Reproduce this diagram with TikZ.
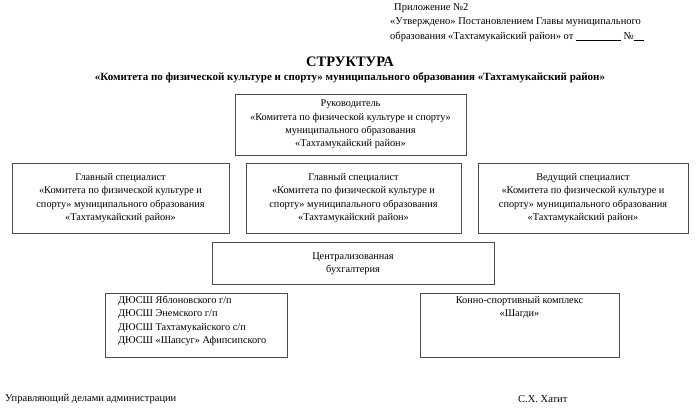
\documentclass[tikz,border=0pt]{standalone}
\usepackage{fontspec}
\setmainfont{Liberation Serif}
\begin{document}
\begin{tikzpicture}[x=1pt,y=-1pt,
  bx/.style={draw=black!70,line width=0.6pt,align=center,font=\fontsize{10.3}{13.3}\selectfont,inner sep=0pt},
  tx/.style={inner sep=0pt,font=\fontsize{10.5}{14.5}\selectfont}]
\useasboundingbox[fill=white] (0,0) rectangle (700,408);
\node[tx,anchor=north west,align=left] (hdr) at (390,3) {\hspace*{4pt}Приложение №2\\«Утверждено» Постановлением Главы муниципального\\образования «Тахтамукайский район» от \underline{\hspace{45pt}} №\underline{\hspace{10pt}}};
\node[inner sep=0pt,font=\fontsize{14.5}{16}\selectfont\bfseries] (title) at (350,62) {СТРУКТУРА};
\node[inner sep=0pt,font=\fontsize{11}{12}\selectfont\bfseries] (sub) at (350,78) {«Комитета по физической культуре и спорту» муниципального образования «Тахтамукайский район»};
\node[bx,minimum width=231pt,minimum height=61pt] (ruk) at (350.5,124.5) {Руководитель\\«Комитета по физической культуре и спорту»\\муниципального образования\\«Тахтамукайский  район»};
\node[bx,minimum width=217pt,minimum height=70pt] (g1) at (120.5,198) {Главный специалист\\«Комитета по физической культуре и\\спорту» муниципального образования\\«Тахтамукайский район»};
\node[bx,minimum width=215pt,minimum height=70pt] (g2) at (353.5,198) {Главный специалист\\«Комитета по физической культуре и\\спорту» муниципального образования\\«Тахтамукайский район»};
\node[bx,minimum width=210pt,minimum height=70pt] (v) at (583,198) {Ведущий специалист\\«Комитета по физической культуре и\\спорту» муниципального образования\\«Тахтамукайский район»};
\node[bx,minimum width=282pt,minimum height=42pt] (cb) at (353,263) {\raisebox{6pt}{\begin{tabular}{@{}c@{}}Централизованная\\бухгалтерия\end{tabular}}};
\node[bx,minimum width=182pt,minimum height=64pt] (d) at (196,325) {};
\node[tx,anchor=north west,align=left,font=\fontsize{10.3}{13.3}\selectfont] (dt) at (118,296) {ДЮСШ Яблоновского г/п\\ДЮСШ Энемского г/п\\ДЮСШ Тахтамукайского с/п\\ДЮСШ «Шапсуг» Афипсипского};
\node[bx,minimum width=199pt,minimum height=64pt] (k) at (519.5,325) {};
\node[tx,anchor=north,align=center,font=\fontsize{10.3}{13.3}\selectfont] (kt) at (519.5,296) {Конно-спортивный комплекс\\«Шагди»};
\node[tx,anchor=west] (f1) at (5,399) {Управляющий делами администрации};
\node[tx,anchor=west] (f2) at (518,399) {С.Х. Хатит};
\end{tikzpicture}
\end{document}
